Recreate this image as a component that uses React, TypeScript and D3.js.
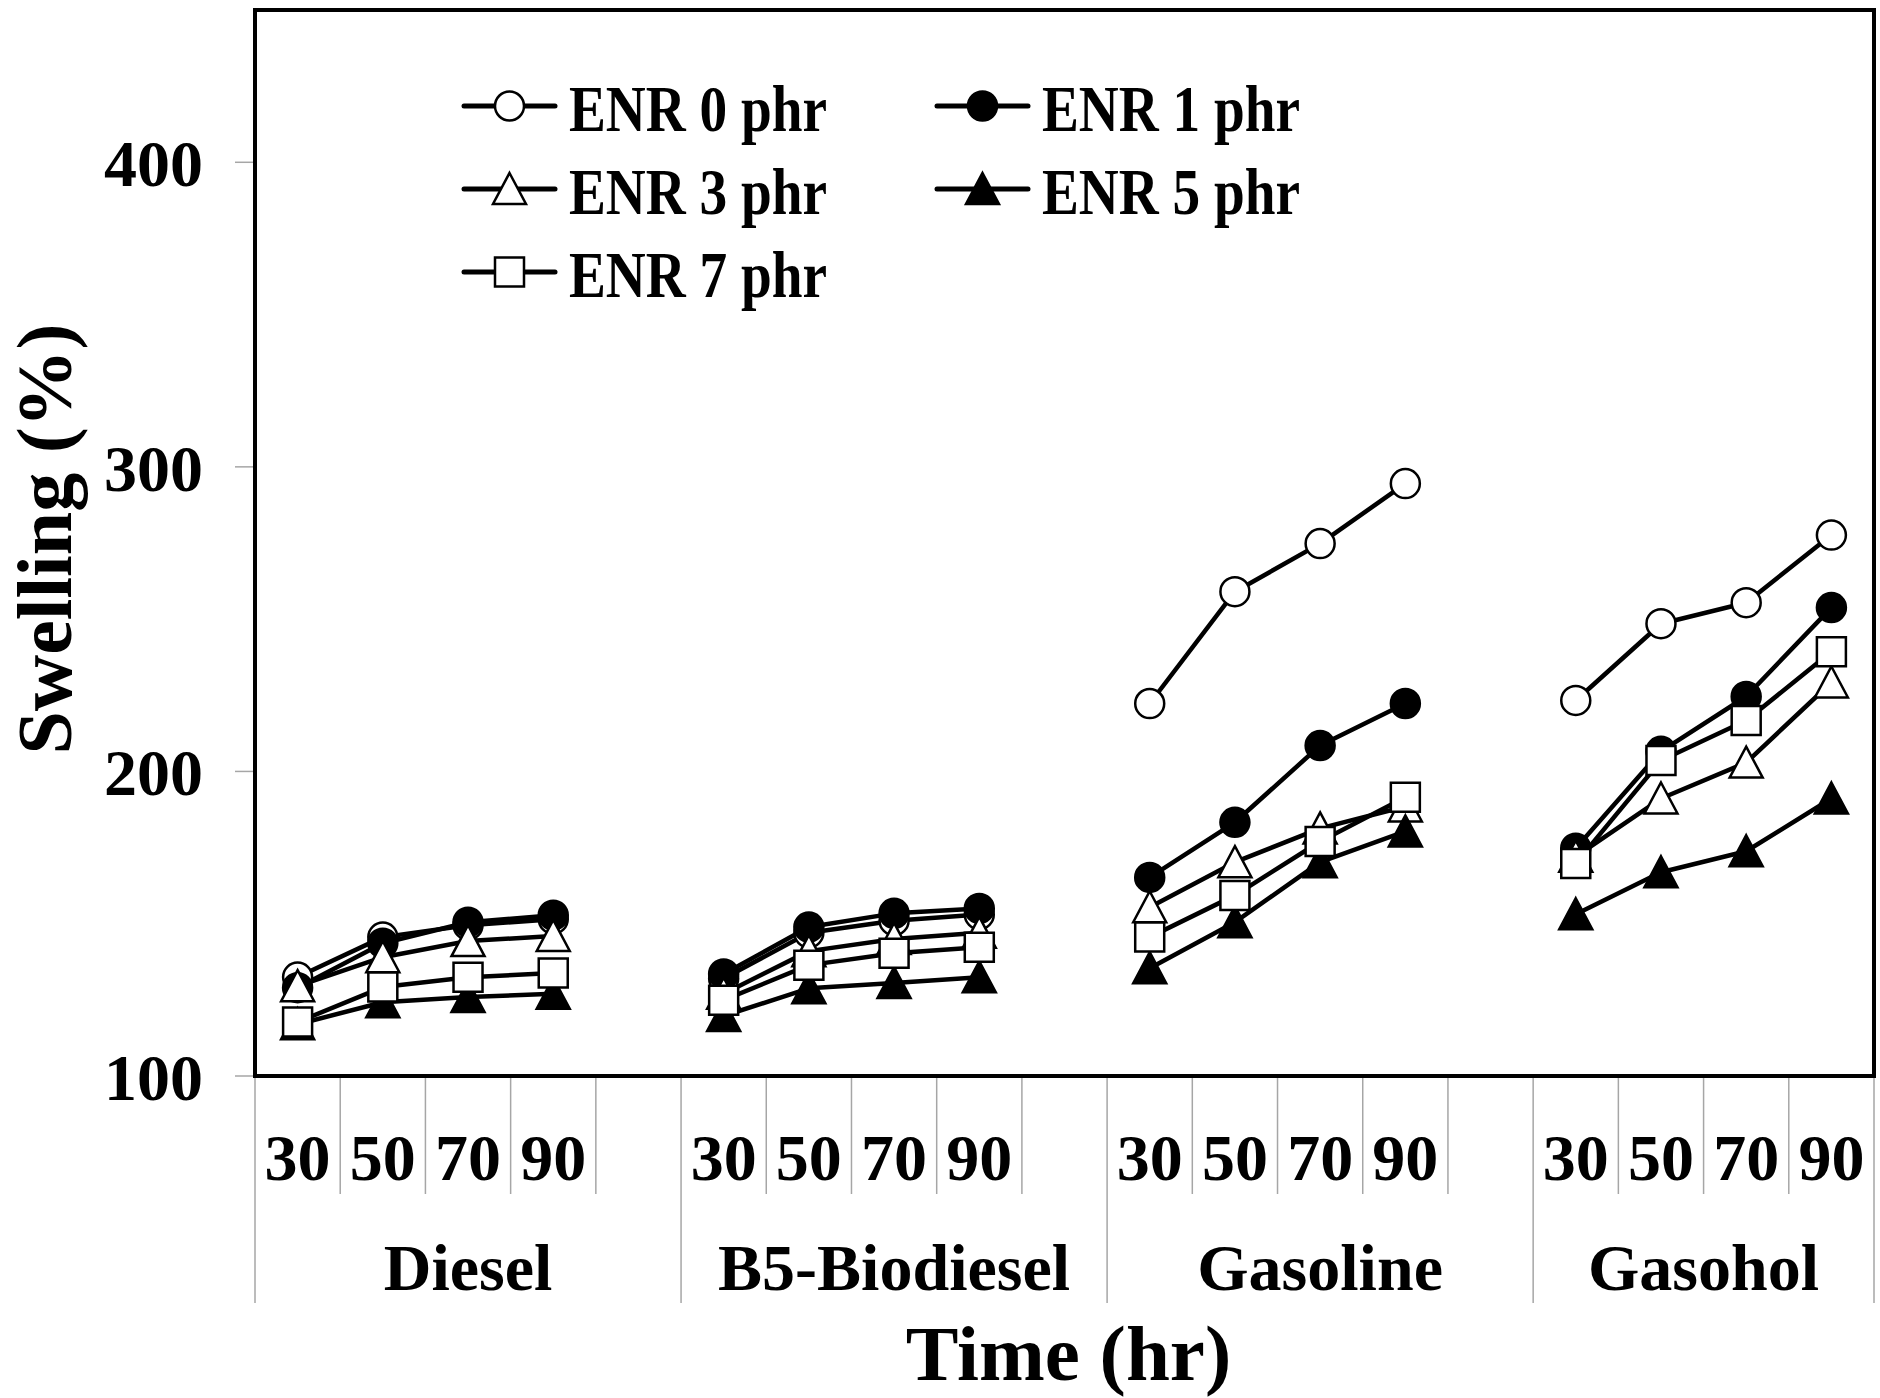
import { useEffect, useRef } from "react";
import * as d3 from "d3";

// fuels and immersion times (hr)
const FUELS = ["Diesel", "B5-Biodiesel", "Gasoline", "Gasohol"];
const TIMES = ["30", "50", "70", "90"];
const Y_TICKS = [100, 200, 300, 400];

// swelling (%) per series, order: Diesel x4, B5 x4, Gasoline x4, Gasohol x4
const ENR0 = [132.5, 145.6, 149.5, 151.5, 132, 147, 151, 153, 222.3, 259, 274.8, 294.5, 223.3, 248.5, 255.4, 277.6];
const ENR1 = [129, 143.6, 150.5, 152.8, 133.5, 148.9, 153.4, 155, 165.2, 183.3, 208.5, 222.3, 174.8, 206.6, 224.6, 253.8];
const ENR3 = [129.5, 139, 144.3, 146, 127, 141, 145, 147, 155.4, 170.2, 181.3, 188.5, 172, 191.1, 202.9, 229.2];
const ENR5 = [117, 124.2, 125.9, 127, 119.7, 128.8, 130.5, 132.4, 135.4, 150.5, 170.2, 180.3, 153.1, 166.9, 173.8, 191.1];
const ENR7 = [117.7, 129.2, 132.4, 133.8, 124.9, 136.4, 140.3, 142.3, 145.6, 159.3, 177, 191.5, 169.8, 203.6, 216.7, 239.3];

type Shape = "circle" | "triangle" | "square";

const SERIES: { label: string; values: number[]; shape: Shape; filled: boolean }[] = [
  { label: "ENR 0 phr", values: ENR0, shape: "circle", filled: false },
  { label: "ENR 1 phr", values: ENR1, shape: "circle", filled: true },
  { label: "ENR 3 phr", values: ENR3, shape: "triangle", filled: false },
  { label: "ENR 5 phr", values: ENR5, shape: "triangle", filled: true },
  { label: "ENR 7 phr", values: ENR7, shape: "square", filled: false },
];

const FONT = "'Liberation Serif', 'Times New Roman', serif";
const GRAY = "#a6a6a6";

function markerPath(shape: Shape) {
  if (shape === "circle") {
    const p = d3.path();
    p.arc(0, 0, 14.5, 0, Math.PI * 2);
    p.closePath();
    return p.toString();
  }
  if (shape === "square") return "M-14.5,-14.5H14.5V14.5H-14.5Z";
  return "M0,-16L16.5,15H-16.5Z";
}

export default function App() {
  const svgRef = useRef<SVGSVGElement>(null);
  const width = 1880;
  const height = 1398;

  useEffect(() => {
    if (!svgRef.current) return;
    const svg = d3.select(svgRef.current);
    svg.selectAll("*").remove();

    const left = 255;
    const right = 1874;
    const top = 10;
    const bottom = 1076;

    // 19 slots: 4 times per fuel, a blank slot between fuels
    const slots: string[] = [];
    FUELS.forEach((f, i) => {
      TIMES.forEach((t) => slots.push(`${f}|${t}`));
      if (i < FUELS.length - 1) slots.push(`${f}|gap`);
    });

    const x = d3.scaleBand<string>().domain(slots).range([left, right]).padding(0);
    const y = d3.scaleLinear().domain([100, 450]).range([bottom, top]);
    const bw = x.bandwidth();

    const txt = (sel: d3.Selection<SVGTextElement, unknown, null, undefined>, size: number) =>
      sel
        .attr("font-family", FONT)
        .attr("font-weight", "bold")
        .attr("font-size", size)
        .attr("fill", "#000");

    // y ticks and labels
    Y_TICKS.forEach((t) => {
      svg
        .append("line")
        .attr("x1", left - 20)
        .attr("x2", left)
        .attr("y1", y(t))
        .attr("y2", y(t))
        .attr("stroke", GRAY)
        .attr("stroke-width", 1.5);
      txt(svg.append("text"), 66)
        .attr("x", 203)
        .attr("y", y(t) + 24)
        .attr("text-anchor", "end")
        .text(String(t));
    });

    // category separators
    slots.forEach((s, i) => {
      const isGroupStart = i === 0 || slots[i - 1].endsWith("gap");
      const xx = x(s)!;
      svg
        .append("line")
        .attr("x1", xx)
        .attr("x2", xx)
        .attr("y1", bottom)
        .attr("y2", isGroupStart ? 1303 : 1194)
        .attr("stroke", GRAY)
        .attr("stroke-width", 1.5);
    });
    svg
      .append("line")
      .attr("x1", right)
      .attr("x2", right)
      .attr("y1", bottom)
      .attr("y2", 1303)
      .attr("stroke", GRAY)
      .attr("stroke-width", 1.5);

    // time labels
    slots
      .filter((s) => !s.endsWith("gap"))
      .forEach((s) => {
        txt(svg.append("text"), 66)
          .attr("x", x(s)! + bw / 2)
          .attr("y", 1180)
          .attr("text-anchor", "middle")
          .text(s.split("|")[1]);
      });

    // fuel labels
    FUELS.forEach((f, i) => {
      const start = x(`${f}|30`)!;
      const end = i < FUELS.length - 1 ? x(`${f}|gap`)! + bw : right;
      txt(svg.append("text"), 66)
        .attr("x", (start + end) / 2)
        .attr("y", 1290)
        .attr("text-anchor", "middle")
        .text(f);
    });

    // axis titles
    txt(svg.append("text"), 79)
      .attr("x", (left + right) / 2 + 4)
      .attr("y", 1380)
      .attr("text-anchor", "middle")
      .text("Time (hr)");
    txt(svg.append("text"), 78)
      .attr("transform", `translate(71,539) rotate(-90)`)
      .attr("text-anchor", "middle")
      .text("Swelling (%)");

    const plot = svg.append("g");

    // lines, one segment per fuel
    SERIES.forEach((s) => {
      FUELS.forEach((f, fi) => {
        const vals = s.values.slice(fi * 4, fi * 4 + 4);
        const pts = vals.map((v, j) => [x(`${f}|${TIMES[j]}`)! + bw / 2, y(v)] as [number, number]);
        plot
          .append("path")
          .attr("d", d3.line()(pts))
          .attr("fill", "none")
          .attr("stroke", "#000")
          .attr("stroke-width", 4.5)
          .attr("stroke-linejoin", "round");
      });
    });

    // markers
    SERIES.forEach((s) => {
      s.values.forEach((v, k) => {
        const f = FUELS[Math.floor(k / 4)];
        const t = TIMES[k % 4];
        plot
          .append("path")
          .attr("d", markerPath(s.shape))
          .attr("transform", `translate(${x(`${f}|${t}`)! + bw / 2},${y(v)})`)
          .attr("fill", s.filled ? "#000" : "#fff")
          .attr("stroke", "#000")
          .attr("stroke-width", 2.5);
      });
    });

    // plot border
    svg
      .append("rect")
      .attr("x", left)
      .attr("y", top)
      .attr("width", right - left)
      .attr("height", bottom - top)
      .attr("fill", "none")
      .attr("stroke", "#000")
      .attr("stroke-width", 4);

    // legend
    const legend = svg.append("g");
    SERIES.forEach((s, i) => {
      const col = i % 2;
      const row = Math.floor(i / 2);
      const x0 = col === 0 ? 464 : 937;
      const yy = 106 + row * 83;
      const g = legend.append("g").attr("transform", `translate(${x0},${yy})`);
      g.append("line")
        .attr("x1", 0)
        .attr("x2", 91)
        .attr("stroke", "#000")
        .attr("stroke-width", 5)
        .attr("stroke-linecap", "round");
      g.append("path")
        .attr("d", markerPath(s.shape))
        .attr("transform", "translate(45.5,0)")
        .attr("fill", s.filled ? "#000" : "#fff")
        .attr("stroke", "#000")
        .attr("stroke-width", 2.5);
      txt(g.append("text"), 66)
        .attr("x", 105)
        .attr("y", 25)
        .attr("textLength", 258)
        .attr("lengthAdjust", "spacingAndGlyphs")
        .text(s.label);
    });
  }, []);

  return (
    <svg
      ref={svgRef}
      width={width}
      height={height}
      style={{ position: "absolute", left: 0, top: 0, background: "#fff" }}
    />
  );
}
